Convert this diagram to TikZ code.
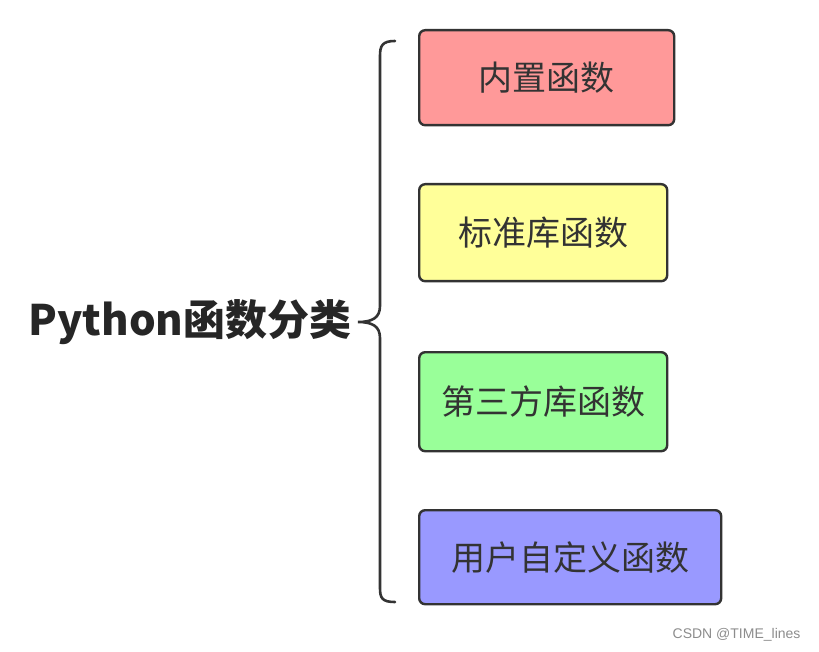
\documentclass[tikz,border=0pt]{standalone}
\usepackage{fontspec}
\setmainfont{Noto Sans CJK SC}
\newfontfamily\wmfont{Liberation Sans}
\begin{document}
\begin{tikzpicture}[x=1pt,y=-1pt,
  catbox/.style={draw=black!80, line width=2.4pt, rounded corners=6pt, text=black!80,
    font=\fontsize{34}{38}\selectfont, anchor=north west, inner sep=0pt},
  bracestyle/.style={draw=black!80, line width=2.6pt, line cap=round}]
\useasboundingbox (0,0) rectangle (819,652);
\definecolor{cred}{HTML}{FF9999}
\definecolor{cyel}{HTML}{FFFF99}
\definecolor{cgrn}{HTML}{99FF99}
\definecolor{cblu}{HTML}{9999FF}
\node[catbox, fill=cred, minimum width=255pt, minimum height=95pt] (b1) at (418,29) {内置函数};
\node[catbox, fill=cyel, minimum width=248pt, minimum height=97pt] (b2) at (418,183) {标准库函数};
\node[catbox, fill=cgrn, minimum width=248pt, minimum height=99pt] (b3) at (418,351) {第三方库函数};
\node[catbox, fill=cblu, minimum width=302pt, minimum height=94pt] (b4) at (418,509) {用户自定义函数};
\node[font=\fontsize{42}{46}\selectfont\bfseries, text=black!85] (title) at (190,322) {Python函数分类};
\coordinate (btop) at (395,41);
\coordinate (btip) at (358,322);
\coordinate (bbot) at (395,602);
\draw[bracestyle] (btop) .. controls (382,41) and (380,46) .. (380,56)
  -- (380,306) .. controls (380,318) and (372,322) .. (btip)
  .. controls (372,322) and (380,326) .. (380,338)
  -- (380,588) .. controls (380,598) and (382,602) .. (bbot);
\node[font=\wmfont\fontsize{14}{16}\selectfont, text=black!45, anchor=east] (wm) at (804,635) {CSDN @TIME\_lines};
\end{tikzpicture}
\end{document}
